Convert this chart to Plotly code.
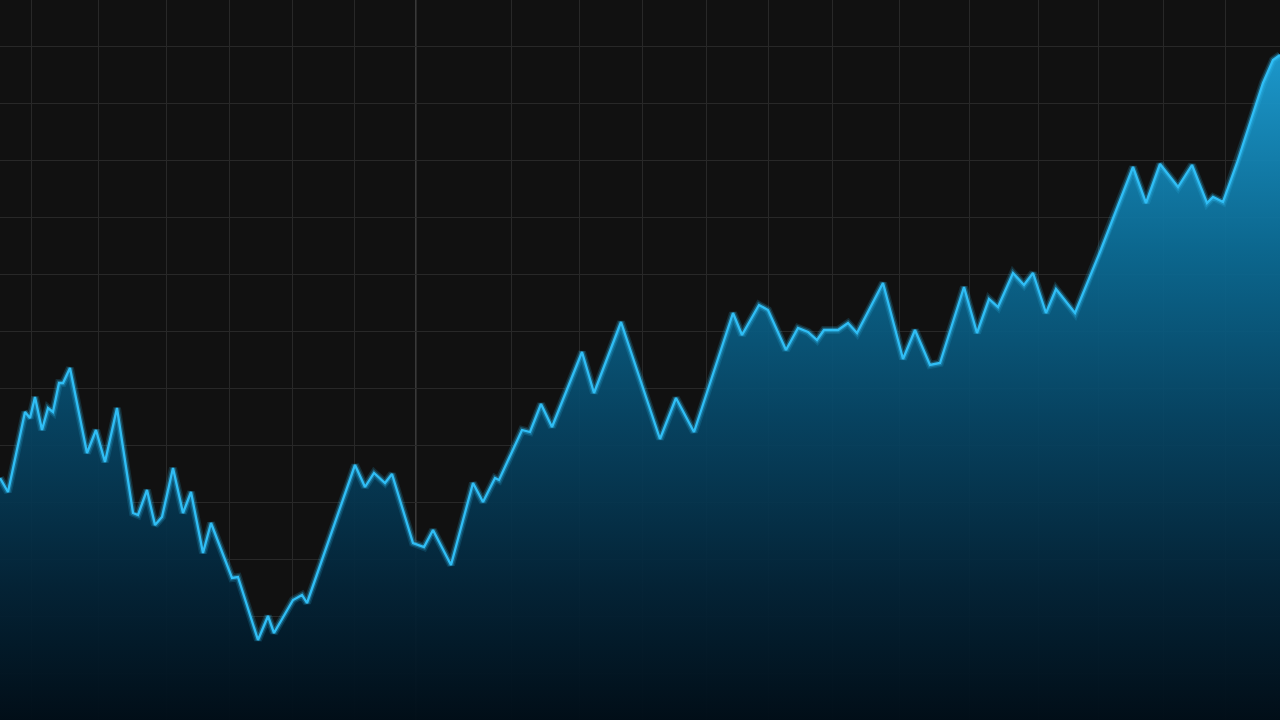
import plotly.graph_objects as go

# time steps (arbitrary units) and price values
t = [0, 8, 25, 30, 35, 42, 48, 53, 59, 63,
     70, 87, 96, 105, 117, 133, 138, 147, 155, 162,
     173, 183, 191, 203, 211, 232, 238, 258, 268, 274,
     293, 302, 307, 355, 365, 374, 385, 392, 413, 424,
     433, 451, 473, 483, 495, 499, 522, 530, 541, 552,
     582, 594, 621, 660, 676, 694, 733, 742, 759, 768,
     786, 798, 808, 817, 824, 838, 848, 857, 883, 903,
     915, 930, 940, 964, 977, 989, 998, 1013, 1024, 1033,
     1046, 1056, 1075, 1100, 1133, 1146, 1160, 1178, 1192, 1207,
     1213, 1223, 1237, 1250, 1263, 1273, 1280]
price = [242, 228, 308, 302, 323, 290, 312, 308, 337, 337,
         352, 267, 290, 258, 312, 207, 205, 230, 195, 203,
         252, 207, 228, 167, 197, 142, 143, 80, 104, 87,
         120, 125, 117, 255, 233, 247, 237, 246, 177, 173,
         190, 155, 237, 218, 242, 240, 290, 288, 316, 293,
         368, 327, 398, 281, 322, 288, 407, 385, 415, 410,
         370, 392, 388, 380, 390, 390, 397, 387, 437, 361,
         390, 355, 357, 433, 387, 421, 413, 447, 435, 447,
         407, 431, 407, 468, 553, 517, 556, 533, 555, 517,
         523, 518, 557, 597, 637, 660, 665]

# grid positions (style)
grid_x = [31, 98, 166, 229, 292, 354, 416, 511, 579, 642, 706, 768,
          832, 899, 969, 1038, 1098, 1163, 1225]

BG = "#111111"
GRID = "#282828"
LINE = "rgb(48,190,245)"

fig = go.Figure()

# gradient area
fig.add_trace(go.Scatter(
    x=t, y=price, mode="lines",
    line=dict(width=0, color=LINE),
    fill="tozeroy",
    fillgradient=dict(
        type="vertical",
        start=0, stop=665,
        colorscale=[
            [0.0, "rgba(1,14,24,0.97)"],
            [0.2, "rgba(3,36,56,0.93)"],
            [0.45, "rgba(6,70,102,0.92)"],
            [0.7, "rgba(11,108,150,0.93)"],
            [1.0, "rgba(28,158,212,0.95)"],
        ],
    ),
    hoverinfo="skip", showlegend=False,
))

# glow
fig.add_trace(go.Scatter(
    x=t, y=price, mode="lines",
    line=dict(width=8, color="rgba(48,190,245,0.16)"),
    hoverinfo="skip", showlegend=False,
))
fig.add_trace(go.Scatter(
    x=t, y=price, mode="lines",
    line=dict(width=5, color="rgba(48,190,245,0.32)"),
    hoverinfo="skip", showlegend=False,
))
# main line
fig.add_trace(go.Scatter(
    x=t, y=price, mode="lines",
    line=dict(width=2.3, color=LINE),
    showlegend=False,
))

fig.update_layout(
    width=1280, height=720,
    margin=dict(l=0, r=0, t=0, b=0),
    paper_bgcolor=BG, plot_bgcolor=BG,
    hovermode=False,
    xaxis=dict(range=[0, 1280], showticklabels=False, zeroline=False,
               showgrid=True, gridcolor=GRID, gridwidth=1.3,
               tickmode="array", tickvals=grid_x, ticks=""),
    yaxis=dict(range=[0, 720], showticklabels=False, zeroline=False,
               showgrid=True, gridcolor=GRID, gridwidth=1.3,
               tick0=47, dtick=57, ticks=""),
    shapes=[dict(type="line", xref="x", yref="paper", x0=416, x1=416,
                 y0=0, y1=1, line=dict(color="#474747", width=1.5),
                 layer="below")],
)

fig.write_html(
    "out.html",
    config={"displayModeBar": False},
    post_script="document.body.style.margin='0';"
                "document.body.style.background='#111111';"
                "document.body.style.overflow='hidden';",
)
